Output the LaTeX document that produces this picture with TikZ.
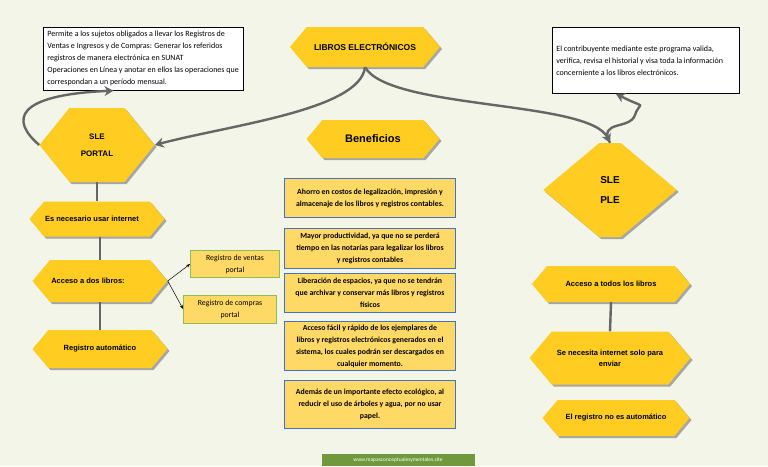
\documentclass[tikz,border=0pt]{standalone}
\usepackage{fontspec}
\setmainfont{Carlito}
\newfontfamily\arialf{Liberation Sans}
\usetikzlibrary{shapes.symbols,shadows,arrows.meta}
\definecolor{bgcol}{rgb}{0.95,0.96,0.91}
\definecolor{hexcol}{rgb}{1.0,0.80,0.13}
\definecolor{boxcol}{rgb}{1.0,0.85,0.40}
\definecolor{bluecol}{rgb}{0.27,0.45,0.77}
\definecolor{greencol}{rgb}{0.55,0.75,0.30}
\definecolor{linecol}{rgb}{0.40,0.40,0.40}
\tikzset{
    hexa/.style={signal, signal to=east and west, signal pointer angle=100, fill=hexcol,
        draw=none, drop shadow={shadow xshift=2pt, shadow yshift=-2pt, fill=gray!70, opacity=1},
        font=\arialf\bfseries\fontsize{7.5}{11}\selectfont, align=center, inner sep=1pt},
    note/.style={draw=black, fill=white, line width=0.8pt, align=flush left, anchor=north west,
        font=\fontsize{8}{12}\selectfont, inner sep=4pt},
    benef/.style={draw=bluecol, fill=boxcol, line width=0.8pt, align=flush center, text width=152pt,
        font=\bfseries\fontsize{7.8}{12}\selectfont, minimum width=171pt, inner sep=3pt},
    sub/.style={draw=greencol, fill=boxcol, line width=0.8pt, align=center,
        font=\fontsize{7.8}{12}\selectfont, inner sep=2pt},
    conn/.style={draw=linecol, line width=2.4pt, -{Stealth[length=9pt,width=10pt]}},
    stem/.style={draw=linecol, line width=2.4pt}
}
\begin{document}
\begin{tikzpicture}[x=1pt,y=-1pt]
    \fill[bgcol] (0,0) rectangle (768,466);
    \useasboundingbox (0,0) rectangle (768,466);
    % notes
    \node[note, text width=192pt, minimum height=61pt] (notaportal) at (43,27) {Permite a los sujetos obligados a llevar los Registros de Ventas e Ingresos y de Compras: Generar los referidos registros de manera electrónica en SUNAT\\Operaciones en Línea y anotar en ellos las operaciones que correspondan a un período mensual.};
    \node[note, text width=179pt, minimum height=66pt] (notaple) at (552,27) {El contribuyente mediante este programa valida, verifica, revisa el historial y visa toda la información concerniente a los libros electrónicos.\\[12pt]};
    % main hexagons
    \node[hexa, minimum width=150pt, minimum height=40pt, font=\arialf\bfseries\fontsize{8.5}{11}\selectfont] (libros) at (365,47) {LIBROS ELECTRÓNICOS};
    \node[hexa, minimum width=133pt, minimum height=38pt, font=\arialf\bfseries\fontsize{11}{13}\selectfont] (benef) at (373,139) {Beneficios};
    \node[hexa, signal pointer angle=102, minimum width=115pt, minimum height=74pt, font=\arialf\bfseries\fontsize{8}{17}\selectfont] (portal) at (97,145) {SLE\\PORTAL};
    \node[hexa, signal pointer angle=80, minimum width=114pt, minimum height=94pt, font=\arialf\bfseries\fontsize{10}{20}\selectfont] (ple) at (610,190) {SLE\\PLE};
    % left column
    \node[hexa, minimum width=135pt, minimum height=35pt] (internet) at (97,219) {Es necesario usar internet\hspace{10pt}};
    \node[hexa, minimum width=135pt, minimum height=42pt] (dos) at (100,281) {Acceso a dos libros:\hspace{24pt}};
    \node[hexa, minimum width=135pt, minimum height=38pt] (auto) at (100,349) {Registro automático};
    \node[sub, minimum width=89pt, minimum height=27pt] (ventas) at (235,264) {Registro de ventas\\portal};
    \node[sub, minimum width=93pt, minimum height=28pt] (compras) at (230,309) {Registro de compras\\portal};
    % benefits
    \node[benef, minimum height=39pt] (b1) at (370,198) {Ahorro en costos de legalización, impresión y almacenaje de los libros y registros contables.};
    \node[benef, minimum height=40pt] (b2) at (370,248) {Mayor productividad, ya que no se perderá tiempo en las notarías para legalizar los libros y registros contables};
    \node[benef, minimum height=39pt] (b3) at (370,293) {Liberación de espacios, ya que no se tendrán que archivar y conservar más libros y registros físicos};
    \node[benef, minimum height=48pt] (b4) at (370,346) {Acceso fácil y rápido de los ejemplares de libros y registros electrónicos generados en el sistema, los cuales podrán ser descargados en cualquier momento.};
    \node[benef, minimum height=48pt] (b5) at (370,404) {Además de un importante efecto ecológico, al reducir el uso de árboles y agua, por no usar papel.\\[8pt]};
    % right column
    \node[hexa, minimum width=158pt, minimum height=36pt] (todos) at (611,284) {Acceso a todos los libros};
    \node[hexa, minimum width=161pt, minimum height=53pt] (envio) at (610,358) {Se necesita internet solo para\\enviar};
    \node[hexa, minimum width=147pt, minimum height=36pt] (noauto) at (616,418) {El registro no es automático};
    % footer
    \node[fill=greencol!80!black, text=white, minimum width=153pt, minimum height=12pt, inner sep=0pt,
        font=\fontsize{5.5}{6}\selectfont] (pie) at (398,460) {www.mapasconceptualesymentales.site};
    % connectors
    \draw[conn] (libros.south) .. controls (360,110) and (230,125) .. (portal.east);
    \draw[conn] (libros.south) .. controls (390,110) and (590,100) .. (ple.north);
    \draw[conn] (portal.west) .. controls (10,120) and (15,95) .. ([xshift=-30pt]notaportal.south);
    \draw[conn] (ple.north) .. controls (598,120) and (630,130) .. (635,115) .. controls (640,100) and (648,110) .. ([xshift=-30pt]notaple.south);
    \draw[stem] (portal.south) -- (internet.north);
    \draw[stem] ([xshift=3pt]internet.south) -- (dos.north);
    \draw[stem] (dos.south) -- (auto.north);
    \draw[stem] (todos.south) -- (envio.north);
    \draw[-{Stealth[length=4pt]}, line width=0.5pt] (dos.east) -- (ventas.west);
    \draw[-{Stealth[length=4pt]}, line width=0.5pt] (dos.east) -- (compras.west);
\end{tikzpicture}
\end{document}
